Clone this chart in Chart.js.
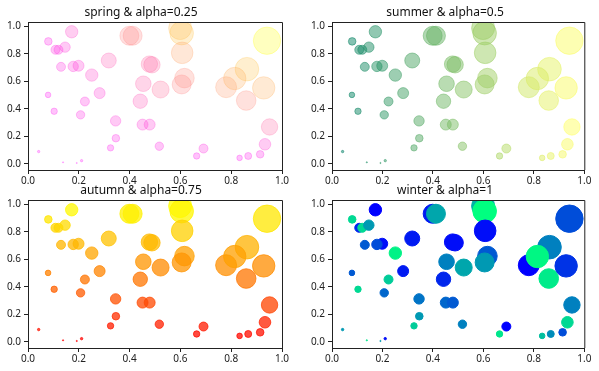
<!DOCTYPE html>
<html><head><meta charset="utf-8">
<script src="https://cdn.jsdelivr.net/npm/chart.js@4"></script>
<style>
html,body{margin:0;padding:0;background:#fff;width:599px;height:371px;overflow:hidden}
canvas{position:absolute}
</style></head><body>
<canvas id="c0" width="299" height="190" style="left:0;top:0"></canvas>
<canvas id="c1" width="295" height="190" style="left:304px;top:0"></canvas>
<canvas id="c2" width="299" height="190" style="left:0;top:178px"></canvas>
<canvas id="c3" width="295" height="190" style="left:304px;top:178px"></canvas>
<script>
// ---- data ----
const xs = [0.042,0.138,0.192,0.211,0.080,0.108,0.120,0.146,0.172,0.130,0.199,0.178,0.251,0.318,0.282,0.079,0.103,0.224,0.207,0.345,0.346,0.325,0.399,0.412,0.454,0.442,0.478,0.488,0.522,0.451,0.479,0.517,0.599,0.605,0.607,0.616,0.605,0.664,0.691,0.780,0.862,0.814,0.859,0.928,0.941,0.951,0.933,0.914,0.867,0.833];
const ys = [0.090,0.012,0.007,0.024,0.891,0.830,0.830,0.849,0.961,0.706,0.714,0.709,0.646,0.752,0.515,0.502,0.383,0.454,0.357,0.313,0.187,0.117,0.932,0.932,0.583,0.456,0.726,0.721,0.541,0.286,0.286,0.129,0.988,0.951,0.808,0.624,0.578,0.058,0.112,0.558,0.689,0.621,0.461,0.553,0.896,0.269,0.143,0.070,0.058,0.044];
// marker radius (px) as seen in the picture
const sizes = [1.7,1.0,1.0,1.7,4.3,5.0,5.0,5.7,6.7,5.0,6.0,5.7,6.7,8.0,6.0,3.3,3.7,5.0,4.7,5.7,4.3,3.7,10,10,8.3,7.7,8.7,8.7,9.0,6.0,6.0,4.7,12.0,12.3,11.3,10.3,10.0,3.7,5.0,11.0,12.3,11.7,10.3,11.7,14.2,8.7,6.3,4.3,4.0,3.3];
// colour values of the winter panel (0 = blue, 1 = spring green)
const winterC = [0.6,0.9,0.6,0.05,0.85,0.15,0.85,0.6,0.0,0.35,0.05,0.3,0.95,0.1,0.1,0.35,0.85,0.8,0.4,0.45,0.6,0.8,0.1,0.65,0.5,0.15,0.05,0.05,0.65,0.4,0.35,0.5,0.7,1.0,0.05,0.35,0.6,0.9,0.0,0.0,0.5,0.97,0.92,0.2,0.3,0.5,0.85,0.3,0.55,0.75];
const titles = ['spring & alpha=0.25','summer & alpha=0.5','autumn & alpha=0.75','winter & alpha=1'];
const alphas = [0.25,0.5,0.75,1];
const tickVals = [0,0.2,0.4,0.6,0.8,1.0];

// ---- colour maps ----
const cmaps = [
  c=>[1,c,1-c],            // spring
  c=>[c,0.5+c/2,0.4],      // summer
  c=>[1,c,0],              // autumn
  c=>[0,c,1-c/2]           // winter
];
function norm(a){const mn=Math.min(...a),mx=Math.max(...a);return a.map(v=>(v-mn)/(mx-mn));}
const area = sizes.map(r=>r*r);
const cvals = [norm(area), norm(xs), norm(ys), winterC];

const frame = {id:'frame', afterDraw(ch){
  const {ctx, chartArea:a} = ch;
  ctx.save(); ctx.strokeStyle='#222'; ctx.lineWidth=1;
  ctx.beginPath();
  ctx.moveTo(a.left, a.top+0.5); ctx.lineTo(a.right+0.5, a.top+0.5); ctx.lineTo(a.right+0.5, a.bottom);
  ctx.stroke(); ctx.restore();
}};

const font = {family:'Noto Sans', size:10};
for (let i=0;i<4;i++){
  const cm = cmaps[i], al = alphas[i];
  const cols = cvals[i].map(v=>{const [r,g,b]=cm(v);return `rgba(${Math.round(r*255)},${Math.round(g*255)},${Math.round(b*255)},${al})`;});
  const canvas = document.getElementById('c'+i);
  new Chart(canvas, {
    type:'scatter',
    data:{datasets:[{
      data: xs.map((x,k)=>({x, y:ys[k]})),
      pointRadius: sizes.map(r=>Math.max(r-0.5,0.6)),
      backgroundColor: cols,
      borderColor: cols,
      borderWidth: 1,
      clip: 0
    }]},
    options:{
      responsive:false, animation:false, events:[],
      layout:{padding:{left:0, right: canvas.width-282, top:0, bottom:0}},
      plugins:{
        legend:{display:false}, tooltip:{enabled:false},
        title:{display:true, text:titles[i], color:'#111', font:{family:'Noto Sans', size:12, weight:'normal'}, padding:{top:5,bottom:2.6}}
      },
      scales:{
        x:{type:'linear', min:0, max:1,
           afterBuildTicks:s=>{s.ticks=tickVals.map(v=>({value:v}));},
           afterFit:s=>{s.height=20;},
           ticks:{font, color:'#222', padding:1, maxRotation:0, callback:v=>v.toFixed(1)},
           grid:{drawOnChartArea:false, drawTicks:true, tickLength:4, color:'#222'},
           border:{display:true, color:'#222'}},
        y:{type:'linear', min:-0.044, max:1.032,
           afterBuildTicks:s=>{s.ticks=tickVals.map(v=>({value:v}));},
           afterFit:s=>{s.width=28;},
           ticks:{font, color:'#222', padding:3, callback:v=>v.toFixed(1)},
           grid:{drawOnChartArea:false, drawTicks:true, tickLength:4, color:'#222'},
           border:{display:true, color:'#222'}}
      }
    },
    plugins:[frame]
  });
}
</script>
</body></html>
